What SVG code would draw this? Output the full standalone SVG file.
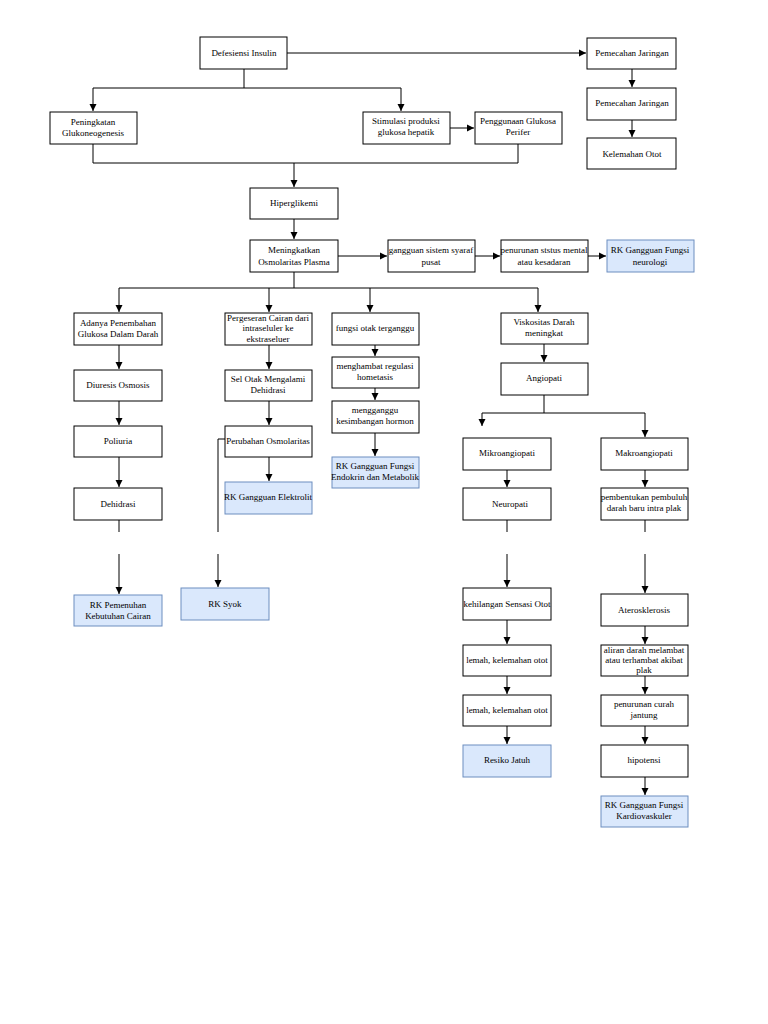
<svg xmlns="http://www.w3.org/2000/svg" width="768" height="1024" viewBox="0 0 768 1024">
<style>
rect{fill:#fff;stroke:#000;stroke-width:1}
rect.rk{fill:#dae8fc;stroke:#6c8ebf}
text{font-family:"Liberation Serif",serif;font-size:9px;text-anchor:middle;fill:#000}
#edges path{fill:none;stroke:#000;stroke-width:1}
</style>
<defs><marker id="a" markerWidth="8" markerHeight="8" refX="7" refY="4" orient="auto" markerUnits="userSpaceOnUse"><path d="M0,0.5 L7,4 L0,7.5 Z" fill="#000"/></marker></defs>
<rect width="768" height="1024" style="fill:#fff;stroke:none"/>
<g id="edges">
<path d="M287,53 H586" marker-end="url(#a)"/>
<path d="M632,69 V87" marker-end="url(#a)"/>
<path d="M632,120 V137" marker-end="url(#a)"/>
<path d="M244,69 V88 H93 V111" marker-end="url(#a)"/>
<path d="M244,88 H401 V111" marker-end="url(#a)"/>
<path d="M450,128 H474" marker-end="url(#a)"/>
<path d="M93,144 V163 H518 V144"/>
<path d="M294,163 V187" marker-end="url(#a)"/>
<path d="M294,219 V239" marker-end="url(#a)"/>
<path d="M338,256 H387" marker-end="url(#a)"/>
<path d="M475,256 H500" marker-end="url(#a)"/>
<path d="M588,256 H606" marker-end="url(#a)"/>
<path d="M294,272 V288"/>
<path d="M119,288 H538"/>
<path d="M119,288 V312" marker-end="url(#a)"/>
<path d="M269,288 V312" marker-end="url(#a)"/>
<path d="M370,288 V312" marker-end="url(#a)"/>
<path d="M538,288 V312" marker-end="url(#a)"/>
<path d="M119,345 V369" marker-end="url(#a)"/>
<path d="M119,401 V425" marker-end="url(#a)"/>
<path d="M119,457 V487" marker-end="url(#a)"/>
<path d="M119,520 V532"/>
<path d="M119,554 V594" marker-end="url(#a)"/>
<path d="M269,345 V369" marker-end="url(#a)"/>
<path d="M269,401 V425" marker-end="url(#a)"/>
<path d="M269,457 V481" marker-end="url(#a)"/>
<path d="M225,439 H218 V532"/>
<path d="M218,554 V587" marker-end="url(#a)"/>
<path d="M375,345 V356" marker-end="url(#a)"/>
<path d="M375,388 V400" marker-end="url(#a)"/>
<path d="M375,433 V456" marker-end="url(#a)"/>
<path d="M544,344 V362" marker-end="url(#a)"/>
<path d="M544,395 V413"/>
<path d="M482,413 H645"/>
<path d="M482,413 V426" marker-end="url(#a)"/>
<path d="M645,413 V437" marker-end="url(#a)"/>
<path d="M507,470 V487" marker-end="url(#a)"/>
<path d="M645,470 V487" marker-end="url(#a)"/>
<path d="M507,520 V532"/>
<path d="M507,554 V587" marker-end="url(#a)"/>
<path d="M645,520 V532"/>
<path d="M645,554 V593" marker-end="url(#a)"/>
<path d="M507,620 V644" marker-end="url(#a)"/>
<path d="M507,676 V694" marker-end="url(#a)"/>
<path d="M507,726 V744" marker-end="url(#a)"/>
<path d="M645,626 V644" marker-end="url(#a)"/>
<path d="M645,676 V694" marker-end="url(#a)"/>
<path d="M645,726 V744" marker-end="url(#a)"/>
<path d="M645,777 V795" marker-end="url(#a)"/>
</g>
<g id="n1"><rect x="200" y="37" width="87" height="32"/><text x="244" y="56">Defesiensi Insulin</text></g>
<g id="n2"><rect x="587" y="38" width="89" height="31"/><text x="632" y="56">Pemecahan Jaringan</text></g>
<g id="n3"><rect x="587" y="88" width="89" height="32"/><text x="632" y="106">Pemecahan Jaringan</text></g>
<g id="n4"><rect x="587" y="138" width="89" height="31"/><text x="632" y="157">Kelemahan Otot</text></g>
<g id="n5"><rect x="50" y="112" width="87" height="32"/><text x="93" y="125">Peningkatan</text><text x="93" y="136">Glukoneogenesis</text></g>
<g id="n6"><rect x="363" y="112" width="87" height="32"/><text x="406" y="124">Stimulasi produksi</text><text x="406" y="135">glukosa hepatik</text></g>
<g id="n7"><rect x="475" y="112" width="87" height="32"/><text x="518" y="124">Penggunaan Glukosa</text><text x="518" y="135">Perifer</text></g>
<g id="n8"><rect x="250" y="188" width="88" height="31"/><text x="294" y="206">Hiperglikemi</text></g>
<g id="n9"><rect x="250" y="240" width="88" height="32"/><text x="294" y="253">Meningkatkan</text><text x="294" y="265">Osmolaritas Plasma</text></g>
<g id="n10"><rect x="388" y="240" width="87" height="32"/><text x="431" y="253">gangguan sistem syaraf</text><text x="431" y="265">pusat</text></g>
<g id="n11"><rect x="501" y="240" width="87" height="32"/><text x="544" y="253">penurunan ststus mental</text><text x="544" y="265">atau kesadaran</text></g>
<g id="n12"><rect class="rk" x="607" y="240" width="87" height="32"/><text x="650" y="253">RK Gangguan Fungsi</text><text x="650" y="265">neurologi</text></g>
<g id="n13"><rect x="74" y="313" width="88" height="32"/><text x="118" y="326">Adanya Penembahan</text><text x="118" y="337">Glukosa Dalam Darah</text></g>
<g id="n14"><rect x="74" y="370" width="88" height="31"/><text x="118" y="388">Diuresis Osmosis</text></g>
<g id="n15"><rect x="74" y="426" width="88" height="31"/><text x="118" y="444">Poliuria</text></g>
<g id="n16"><rect x="74" y="488" width="88" height="32"/><text x="118" y="507">Dehidrasi</text></g>
<g id="n17"><rect class="rk" x="74" y="595" width="88" height="31"/><text x="118" y="608">RK Pemenuhan</text><text x="118" y="619">Kebutuhan Cairan</text></g>
<g id="n18"><rect x="225" y="313" width="87" height="32"/><text x="268" y="321">Pergeseran Cairan dari</text><text x="268" y="331">intraseluler ke</text><text x="268" y="342">ekstraseluer</text></g>
<g id="n19"><rect x="225" y="370" width="87" height="31"/><text x="268" y="382">Sel Otak Mengalami</text><text x="268" y="393">Dehidrasi</text></g>
<g id="n20"><rect x="225" y="426" width="87" height="31"/><text x="268" y="444">Perubahan Osmolaritas</text></g>
<g id="n21"><rect class="rk" x="225" y="482" width="87" height="32"/><text x="268" y="500">RK Gangguan Elektrolit</text></g>
<g id="n22"><rect class="rk" x="181" y="588" width="88" height="32"/><text x="225" y="607">RK Syok</text></g>
<g id="n23"><rect x="332" y="313" width="87" height="32"/><text x="375" y="331">fungsi otak terganggu</text></g>
<g id="n24"><rect x="332" y="357" width="87" height="31"/><text x="375" y="369">menghambat regulasi</text><text x="375" y="380">hometasis</text></g>
<g id="n25"><rect x="332" y="401" width="87" height="32"/><text x="375" y="413">mengganggu</text><text x="375" y="424">kesimbangan hormon</text></g>
<g id="n26"><rect class="rk" x="332" y="457" width="87" height="31"/><text x="375" y="469">RK Gangguan Fungsi</text><text x="375" y="480">Endokrin dan Metabolik</text></g>
<g id="n27"><rect x="501" y="313" width="87" height="31"/><text x="544" y="325">Viskositas Darah</text><text x="544" y="336">meningkat</text></g>
<g id="n28"><rect x="501" y="363" width="87" height="32"/><text x="544" y="381">Angiopati</text></g>
<g id="n29"><rect x="463" y="438" width="88" height="32"/><text x="507" y="456">Mikroangiopati</text></g>
<g id="n30"><rect x="601" y="438" width="87" height="32"/><text x="644" y="456">Makroangiopati</text></g>
<g id="n31"><rect x="463" y="488" width="88" height="32"/><text x="510" y="507">Neuropati</text></g>
<g id="n32"><rect x="601" y="488" width="87" height="32"/><text x="644" y="500">pembentukan pembuluh</text><text x="644" y="511">darah baru intra plak</text></g>
<g id="n33"><rect x="463" y="588" width="88" height="32"/><text x="507" y="607">kehilangan Sensasi Otot</text></g>
<g id="n34"><rect x="463" y="645" width="88" height="31"/><text x="507" y="663">lemah, kelemahan otot</text></g>
<g id="n35"><rect x="463" y="695" width="88" height="31"/><text x="507" y="713">lemah, kelemahan otot</text></g>
<g id="n36"><rect class="rk" x="463" y="745" width="88" height="32"/><text x="507" y="763">Resiko Jatuh</text></g>
<g id="n37"><rect x="601" y="594" width="87" height="32"/><text x="644" y="613">Aterosklerosis</text></g>
<g id="n38"><rect x="601" y="645" width="87" height="31"/><text x="644" y="653">aliran darah melambat</text><text x="644" y="663">atau terhambat akibat</text><text x="644" y="673">plak</text></g>
<g id="n39"><rect x="601" y="695" width="87" height="31"/><text x="644" y="707">penurunan curah</text><text x="644" y="718">jantung</text></g>
<g id="n40"><rect x="601" y="745" width="87" height="32"/><text x="644" y="763">hipotensi</text></g>
<g id="n41"><rect class="rk" x="601" y="796" width="87" height="31"/><text x="644" y="808">RK Gangguan Fungsi</text><text x="644" y="819">Kardiovaskuler</text></g>
</svg>
